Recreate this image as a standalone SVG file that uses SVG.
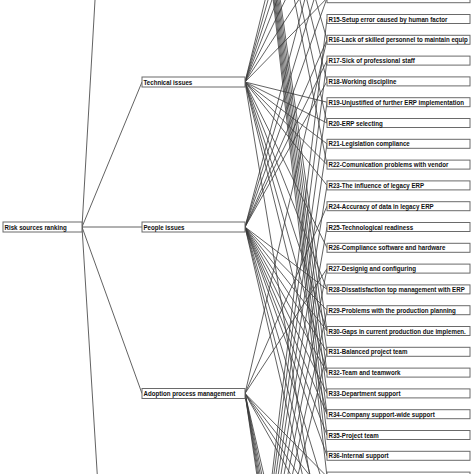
<svg xmlns="http://www.w3.org/2000/svg" width="474" height="474" viewBox="0 0 474 474">
<style>
.bg{fill:#ffffff}
.b{fill:#ffffff;stroke:#6a6a6a;stroke-width:1}
.t{font-family:"Liberation Sans",Arial,sans-serif;font-size:7px;font-weight:bold;fill:#111}
.c line{stroke:#3a3a3a;stroke-width:0.8}
</style>
<rect class="bg" x="0" y="0" width="474" height="474"/>
<g class="c" id="connectors">
<line x1="82" y1="227" x2="142" y2="82"/>
<line x1="82" y1="227" x2="142" y2="227"/>
<line x1="82" y1="227" x2="142" y2="393.5"/>
<line x1="82" y1="227" x2="142" y2="-820"/>
<line x1="82" y1="227" x2="142" y2="1200"/>
<line x1="245" y1="-250" x2="327" y2="39.8"/>
<line x1="245" y1="-250" x2="327" y2="81.4"/>
<line x1="245" y1="-250" x2="327" y2="123"/>
<line x1="245" y1="-250" x2="327" y2="164.6"/>
<line x1="245" y1="-250" x2="327" y2="331"/>
<line x1="245" y1="-250" x2="327" y2="351.8"/>
<line x1="245" y1="-250" x2="327" y2="372.6"/>
<line x1="245" y1="-250" x2="327" y2="393.4"/>
<line x1="245" y1="-250" x2="327" y2="414.2"/>
<line x1="245" y1="-250" x2="327" y2="435"/>
<line x1="245" y1="-250" x2="327" y2="455.8"/>
<line x1="245" y1="-250" x2="327" y2="476.6"/>
<line x1="245" y1="82" x2="327" y2="-251.4"/>
<line x1="245" y1="82" x2="327" y2="-209.8"/>
<line x1="245" y1="82" x2="327" y2="-168.2"/>
<line x1="245" y1="82" x2="327" y2="-126.6"/>
<line x1="245" y1="82" x2="327" y2="-85"/>
<line x1="245" y1="82" x2="327" y2="-43.4"/>
<line x1="245" y1="82" x2="327" y2="-1.8"/>
<line x1="245" y1="82" x2="327" y2="102.2"/>
<line x1="245" y1="82" x2="327" y2="123"/>
<line x1="245" y1="82" x2="327" y2="143.8"/>
<line x1="245" y1="82" x2="327" y2="164.6"/>
<line x1="245" y1="82" x2="327" y2="185.4"/>
<line x1="245" y1="82" x2="327" y2="247.8"/>
<line x1="245" y1="82" x2="327" y2="289.4"/>
<line x1="245" y1="82" x2="327" y2="331"/>
<line x1="245" y1="82" x2="327" y2="372.6"/>
<line x1="245" y1="82" x2="327" y2="414.2"/>
<line x1="245" y1="82" x2="327" y2="580.6"/>
<line x1="245" y1="227" x2="327" y2="-85"/>
<line x1="245" y1="227" x2="327" y2="-43.4"/>
<line x1="245" y1="227" x2="327" y2="-1.8"/>
<line x1="245" y1="227" x2="327" y2="39.8"/>
<line x1="245" y1="227" x2="327" y2="60.6"/>
<line x1="245" y1="227" x2="327" y2="81.4"/>
<line x1="245" y1="227" x2="327" y2="289.4"/>
<line x1="245" y1="227" x2="327" y2="310.2"/>
<line x1="245" y1="227" x2="327" y2="331"/>
<line x1="245" y1="227" x2="327" y2="351.8"/>
<line x1="245" y1="227" x2="327" y2="372.6"/>
<line x1="245" y1="227" x2="327" y2="393.4"/>
<line x1="245" y1="227" x2="327" y2="414.2"/>
<line x1="245" y1="227" x2="327" y2="435"/>
<line x1="245" y1="227" x2="327" y2="455.8"/>
<line x1="245" y1="227" x2="327" y2="497.4"/>
<line x1="245" y1="227" x2="327" y2="539"/>
<line x1="245" y1="227" x2="327" y2="580.6"/>
<line x1="245" y1="393.5" x2="327" y2="39.8"/>
<line x1="245" y1="393.5" x2="327" y2="206.2"/>
<line x1="245" y1="393.5" x2="327" y2="268.6"/>
<line x1="245" y1="393.5" x2="327" y2="476.6"/>
<line x1="245" y1="393.5" x2="327" y2="497.4"/>
<line x1="245" y1="393.5" x2="327" y2="518.2"/>
<line x1="245" y1="393.5" x2="327" y2="539"/>
<line x1="245" y1="393.5" x2="327" y2="747"/>
<line x1="245" y1="393.5" x2="327" y2="788.6"/>
<line x1="245" y1="393.5" x2="327" y2="830.2"/>
<line x1="245" y1="393.5" x2="327" y2="871.8"/>
<line x1="245" y1="393.5" x2="327" y2="913.4"/>
<line x1="245" y1="393.5" x2="327" y2="955"/>
<line x1="245" y1="700" x2="327" y2="19"/>
<line x1="245" y1="700" x2="327" y2="60.6"/>
<line x1="245" y1="700" x2="327" y2="102.2"/>
<line x1="245" y1="700" x2="327" y2="143.8"/>
<line x1="245" y1="700" x2="327" y2="185.4"/>
<line x1="245" y1="700" x2="327" y2="227"/>
<line x1="245" y1="700" x2="327" y2="268.6"/>
<line x1="245" y1="700" x2="327" y2="310.2"/>
<line x1="245" y1="700" x2="327" y2="351.8"/>
</g>
<g id="root"><rect class="b" x="3" y="222" width="79" height="10"/><text class="t" transform="translate(4.5,229.6) scale(0.88,1)">Risk sources ranking</text></g>
<g id="technical"><rect class="b" x="142" y="77" width="103" height="10"/><text class="t" transform="translate(143.5,84.6) scale(0.88,1)">Technical issues</text></g>
<g id="people"><rect class="b" x="142" y="222" width="103" height="10"/><text class="t" transform="translate(143.5,229.6) scale(0.88,1)">People issues</text></g>
<g id="adoption"><rect class="b" x="142" y="388.5" width="103" height="10"/><text class="t" transform="translate(143.5,396.1) scale(0.88,1)">Adoption process management</text></g>
<g id="r14"><rect class="b" x="327" y="-6.3" width="143" height="9"/></g>
<g id="r15"><rect class="b" x="327" y="14.5" width="143" height="9"/><text class="t" transform="translate(328.5,21.6) scale(0.88,1)">R15-Setup error caused by human factor</text></g>
<g id="r16"><rect class="b" x="327" y="35.3" width="143" height="9"/><text class="t" transform="translate(328.5,42.4) scale(0.88,1)">R16-Lack of skilled personnel to maintain equip</text></g>
<g id="r17"><rect class="b" x="327" y="56.1" width="143" height="9"/><text class="t" transform="translate(328.5,63.2) scale(0.88,1)">R17-Sick of professional staff</text></g>
<g id="r18"><rect class="b" x="327" y="76.9" width="143" height="9"/><text class="t" transform="translate(328.5,84) scale(0.88,1)">R18-Working discipline</text></g>
<g id="r19"><rect class="b" x="327" y="97.7" width="143" height="9"/><text class="t" transform="translate(328.5,104.8) scale(0.88,1)">R19-Unjustified of further ERP implementation</text></g>
<g id="r20"><rect class="b" x="327" y="118.5" width="143" height="9"/><text class="t" transform="translate(328.5,125.6) scale(0.88,1)">R20-ERP selecting</text></g>
<g id="r21"><rect class="b" x="327" y="139.3" width="143" height="9"/><text class="t" transform="translate(328.5,146.4) scale(0.88,1)">R21-Legislation compliance</text></g>
<g id="r22"><rect class="b" x="327" y="160.1" width="143" height="9"/><text class="t" transform="translate(328.5,167.2) scale(0.88,1)">R22-Comunication problems with vendor</text></g>
<g id="r23"><rect class="b" x="327" y="180.9" width="143" height="9"/><text class="t" transform="translate(328.5,188) scale(0.88,1)">R23-The influence of legacy ERP</text></g>
<g id="r24"><rect class="b" x="327" y="201.7" width="143" height="9"/><text class="t" transform="translate(328.5,208.8) scale(0.88,1)">R24-Accuracy of data in legacy ERP</text></g>
<g id="r25"><rect class="b" x="327" y="222.5" width="143" height="9"/><text class="t" transform="translate(328.5,229.6) scale(0.88,1)">R25-Technological readiness</text></g>
<g id="r26"><rect class="b" x="327" y="243.3" width="143" height="9"/><text class="t" transform="translate(328.5,250.4) scale(0.88,1)">R26-Compliance software and hardware</text></g>
<g id="r27"><rect class="b" x="327" y="264.1" width="143" height="9"/><text class="t" transform="translate(328.5,271.2) scale(0.88,1)">R27-Designig and configuring</text></g>
<g id="r28"><rect class="b" x="327" y="284.9" width="143" height="9"/><text class="t" transform="translate(328.5,292) scale(0.88,1)">R28-Dissatisfaction top management with ERP</text></g>
<g id="r29"><rect class="b" x="327" y="305.7" width="143" height="9"/><text class="t" transform="translate(328.5,312.8) scale(0.88,1)">R29-Problems with the production planning</text></g>
<g id="r30"><rect class="b" x="327" y="326.5" width="143" height="9"/><text class="t" transform="translate(328.5,333.6) scale(0.88,1)">R30-Gaps in current production due implemen.</text></g>
<g id="r31"><rect class="b" x="327" y="347.3" width="143" height="9"/><text class="t" transform="translate(328.5,354.4) scale(0.88,1)">R31-Balanced project team</text></g>
<g id="r32"><rect class="b" x="327" y="368.1" width="143" height="9"/><text class="t" transform="translate(328.5,375.2) scale(0.88,1)">R32-Team and teamwork</text></g>
<g id="r33"><rect class="b" x="327" y="388.9" width="143" height="9"/><text class="t" transform="translate(328.5,396) scale(0.88,1)">R33-Department support</text></g>
<g id="r34"><rect class="b" x="327" y="409.7" width="143" height="9"/><text class="t" transform="translate(328.5,416.8) scale(0.88,1)">R34-Company support-wide support</text></g>
<g id="r35"><rect class="b" x="327" y="430.5" width="143" height="9"/><text class="t" transform="translate(328.5,437.6) scale(0.88,1)">R35-Project team</text></g>
<g id="r36"><rect class="b" x="327" y="451.3" width="143" height="9"/><text class="t" transform="translate(328.5,458.4) scale(0.88,1)">R36-Internal support</text></g>
<g id="r37"><rect class="b" x="327" y="472.1" width="143" height="9"/></g>
</svg>
